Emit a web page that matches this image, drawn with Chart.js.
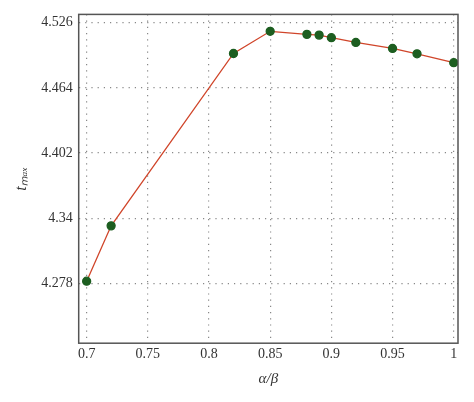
<!DOCTYPE html>
<html>
<head>
<script src="https://cdn.jsdelivr.net/npm/chart.js@4"></script>
<style>
  body { margin: 0; background: #fff; }
  #wrap { width: 474px; height: 402px; }
</style>
</head>
<body>
<div id="wrap"><canvas id="tmaxChart"></canvas></div>
<script>
// values
const ratios = [0.7, 0.72, 0.82, 0.85, 0.88, 0.89, 0.9, 0.92, 0.95, 0.97, 1.0];
const tmaxValues = [4.280, 4.3327, 4.4968, 4.5179, 4.515, 4.5143, 4.5118, 4.5073, 4.5016, 4.4965, 4.488];
const xTicks = [0.7, 0.75, 0.8, 0.85, 0.9, 0.95, 1];
const yTicks = [4.278, 4.34, 4.402, 4.464, 4.526];

const font = { family: "Liberation Serif", size: 14 };

// draw dark frame around plot area
const framePlugin = {
  id: "frame",
  afterDraw(chart) {
    const { ctx, chartArea: a } = chart;
    ctx.save();
    ctx.strokeStyle = "#555";
    ctx.lineWidth = 1.5;
    ctx.strokeRect(a.left, a.top, a.right - a.left, a.bottom - a.top);
    ctx.restore();
  },
};

const config = {
  type: "line",
  data: {
    datasets: [
      {
        data: ratios.map((r, i) => ({ x: r, y: tmaxValues[i] })),
        borderColor: "#d0452a",
        borderWidth: 1.3,
        pointBackgroundColor: "#1d5e20",
        pointBorderColor: "#1d5e20",
        pointRadius: 4,
        tension: 0,
      },
    ],
  },
  options: {
    responsive: true,
    maintainAspectRatio: false,
    animation: false,
    layout: { padding: { top: 14, right: 16, left: 8, bottom: 10 } },
    plugins: { legend: { display: false }, tooltip: { enabled: false } },
    scales: {
      x: {
        type: "linear",
        min: 0.6935,
        max: 1.0035,
        afterBuildTicks: (s) => { s.ticks = xTicks.map((v) => ({ value: v })); },
        ticks: { color: "#333", font, maxRotation: 0, callback: (v) => String(v) },
        grid: { color: "#888", lineWidth: 1.2, drawTicks: false },
        border: { display: false, dash: [1.2, 5] },
        title: { display: true, text: "α/β", color: "#333", font: { family: "Liberation Serif", size: 15, style: "italic" } },
      },
      y: {
        min: 4.221,
        max: 4.534,
        afterBuildTicks: (s) => { s.ticks = yTicks.map((v) => ({ value: v })); },
        ticks: { color: "#333", font, callback: (v) => String(v), padding: 6 },
        grid: { color: "#888", lineWidth: 1.2, drawTicks: false },
        border: { display: false, dash: [1.2, 5] },
        title: { display: true, text: "tₘₐₓ", color: "#333", font: { family: "Liberation Serif", size: 16, style: "italic" } },
      },
    },
  },
  plugins: [framePlugin],
};

const tmaxChart = new Chart(document.getElementById("tmaxChart"), config);
</script>
</body>
</html>
